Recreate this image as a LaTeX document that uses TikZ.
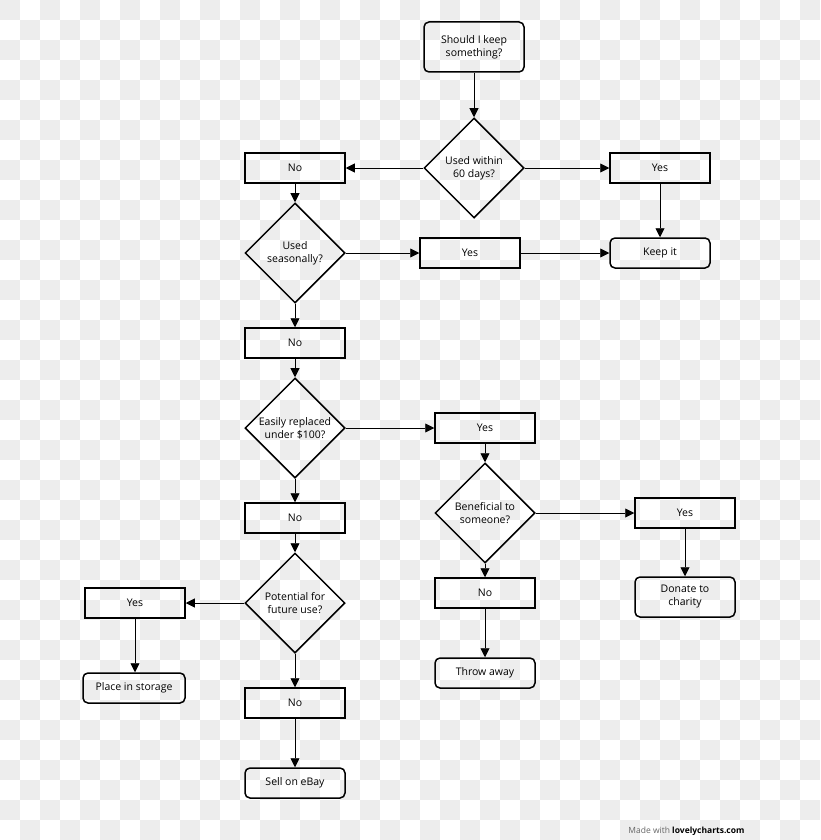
\documentclass[tikz,border=0pt]{standalone}
\usepackage{fontspec}
\setmainfont{Open Sans}
\usetikzlibrary{shapes.geometric,arrows.meta}
\tikzset{
    box/.style={draw, line width=1.5pt, minimum width=100pt, minimum height=30pt, inner sep=0pt, font=\fontsize{10.5}{13}\selectfont, align=center},
    endbox/.style={box, rounded corners=5pt},
    decision/.style={draw, line width=1.5pt, diamond, aspect=1, minimum size=100pt, inner sep=0pt, font=\fontsize{10.5}{13}\selectfont, align=center},
    flow/.style={-{Triangle[length=9pt,width=9pt]}, line width=0.9pt},
}
\begin{document}
\begin{tikzpicture}[x=1pt,y=-1pt]
    % background
    \useasboundingbox (0,0) rectangle (820,840);
    \fill[white] (0,0) rectangle (820,840);
    \foreach \i in {0,...,40}{
        \foreach \j in {0,...,41}{
            \pgfmathtruncatemacro\p{mod(\i+\j,2)}
            \ifnum\p=0 \fill[black!7] (20*\i,20*\j) rectangle +(20,20);\fi
        }
    }

    % nodes
    \node[endbox, minimum height=50pt] (start) at (474,47) {Should I keep\\something?};
    \node[decision] (d1) at (474,168) {Used within\\60 days?};
    \node[box] (no1) at (295,168) {No};
    \node[box] (yes1) at (660,168) {Yes};
    \node[decision] (d2) at (295,253) {Used\\seasonally?};
    \node[box] (yes2) at (470,253) {Yes};
    \node[endbox] (keep) at (660,253) {Keep it};
    \node[box] (no2) at (295,343) {No};
    \node[decision] (d3) at (295,428) {Easily replaced\\under \$100?};
    \node[box] (yes3) at (485,428) {Yes};
    \node[box] (no3) at (295,518) {No};
    \node[decision] (d4) at (485,513) {Beneficial to\\someone?};
    \node[box] (yes4) at (685,513) {Yes};
    \node[endbox, minimum height=40pt] (donate) at (685,597) {Donate to\\charity};
    \node[box] (no4) at (485,593) {No};
    \node[endbox] (throw) at (485,673) {Throw away};
    \node[decision] (d5) at (295,603) {Potential for\\future use?};
    \node[box] (yes5) at (135,603) {Yes};
    \node[endbox, minimum width=102pt] (storage) at (134,688) {Place in storage};
    \node[box] (no5) at (295,703) {No};
    \node[endbox] (ebay) at (295,783) {Sell on eBay};

    % connectors
    \draw[flow] (start) -- (d1);
    \draw[flow] (d1) -- (no1);
    \draw[flow] (d1) -- (yes1);
    \draw[flow] (yes1) -- (keep);
    \draw[flow] (no1) -- (d2);
    \draw[flow] (d2) -- (yes2);
    \draw[flow] (yes2) -- (keep);
    \draw[flow] (d2) -- (no2);
    \draw[flow] (no2) -- (d3);
    \draw[flow] (d3) -- (yes3);
    \draw[flow] (yes3) -- (d4);
    \draw[flow] (d4) -- (yes4);
    \draw[flow] (yes4) -- (donate);
    \draw[flow] (d4) -- (no4);
    \draw[flow] (no4) -- (throw);
    \draw[flow] (d3) -- (no3);
    \draw[flow] (no3) -- (d5);
    \draw[flow] (d5) -- (yes5);
    \draw[flow] (yes5) -- (storage.north -| yes5);
    \draw[flow] (d5) -- (no5);
    \draw[flow] (no5) -- (ebay);

    % watermark
    \node[anchor=east, font=\fontsize{8.5}{10}\selectfont, text=black!60] (mark) at (748,831) {Made with \textcolor{black}{\bfseries lovelycharts.com}};
\end{tikzpicture}
\end{document}
